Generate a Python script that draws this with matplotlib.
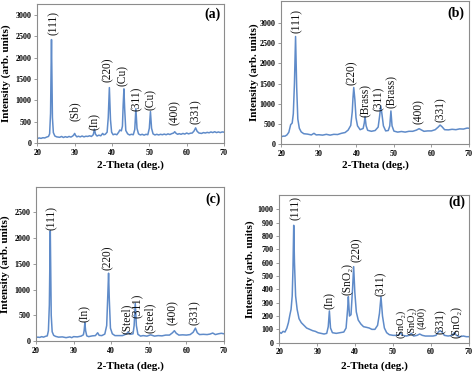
import matplotlib
matplotlib.use("Agg")
import matplotlib.pyplot as plt
from matplotlib.ticker import MultipleLocator

# ---------------- data ----------------
a_theta = [20, 20.5, 21, 21.5, 22, 22.5, 23, 23.3, 23.55, 23.7, 23.8, 23.9, 24.05, 24.3, 24.7, 25.2, 26, 26.5, 27,
           27.5, 28, 28.5, 29, 29.5, 29.8, 30.0, 30.2, 30.6, 31, 31.5, 32, 32.5, 33, 33.5, 34, 34.5, 35, 35.3, 35.6,
           36, 36.5, 37, 37.5, 37.8, 38.2, 38.7, 39.0, 39.3, 39.6, 39.9, 40.3, 40.8, 41.3, 41.8, 42.1, 42.5, 42.8,
           43.0, 43.2, 43.4, 43.7, 44.2, 44.7, 45.2, 45.7, 46.1, 46.4, 46.7, 47.1, 47.6, 48.1, 48.6, 49.1, 49.6,
           50.0, 50.3, 50.6, 51.0, 51.5, 52, 52.5, 53, 53.5, 54, 54.5, 55, 55.5, 56, 56.5, 56.8, 57.2, 57.6, 58,
           58.5, 59, 59.5, 60, 60.5, 61, 61.5, 62, 62.4, 62.8, 63.3, 64, 64.5, 65, 65.5, 66, 66.5, 67, 67.5, 68,
           68.5, 69, 69.5, 70]
a_int = [110, 125, 115, 130, 125, 145, 160, 220, 700, 1800, 2420, 1700, 600, 250, 170, 150, 140, 160, 135,
         155, 140, 160, 145, 170, 200, 230, 190, 150, 165, 150, 170, 150, 165, 160, 175, 160, 200, 330, 210,
         170, 190, 175, 230, 200, 210, 260, 600, 1300, 550, 260, 200, 215, 200, 260, 310, 290, 400,
         900, 1270, 800, 300, 220, 195, 210, 200, 320, 810, 350, 220, 195, 210, 190, 210, 200,
         350, 740, 350, 220, 195, 210, 195, 210, 200, 215, 200, 220, 205, 225, 240, 270, 230, 210, 225,
         210, 230, 215, 240, 220, 235, 240, 290, 360, 280, 240, 230, 250, 240, 255, 245, 265, 250, 270, 250,
         265, 250, 265, 260]

b_theta = [20, 20.5, 21, 21.5, 22, 22.5, 22.9, 23.2, 23.5, 23.8, 24.1, 24.4, 24.8, 25.3, 26, 27, 28, 28.7, 29.3,
           30, 31, 32, 33, 34, 35, 36, 37, 37.8, 38.5, 38.9, 39.1, 39.3, 39.6, 39.9, 40.3, 41, 41.8, 42.1, 42.3,
           42.6, 43, 44, 45, 45.8, 46.2, 46.5, 46.8, 47.2, 47.8, 48.5, 48.9, 49.2, 49.5, 50, 51, 52, 53, 54, 55,
           56, 56.7, 57.3, 58, 59, 60, 61, 61.8, 62.3, 62.8, 63.5, 64.5, 65.5, 66.5, 67.5, 68.5, 69.5, 70]
b_int = [180, 195, 195, 225, 290, 480, 520, 750, 1500, 2667, 1400, 620, 390, 300, 255, 245, 225, 265, 225,
         230, 220, 240, 220, 240, 235, 265, 285, 345, 460, 800, 1150, 1400, 1100, 650, 450, 355, 385, 520, 680,
         450, 340, 315, 335, 420, 700, 945, 750, 450, 325, 335, 450, 820, 450, 320, 295, 310, 295, 315, 315,
         345, 380, 350, 315, 325, 325, 355, 420, 470, 430, 355, 350, 365, 355, 375, 370, 395, 390]

c_theta = [20, 20.5, 21, 21.5, 22, 22.5, 23, 23.3, 23.55, 23.7, 23.8, 23.9, 24.05, 24.3, 24.7, 25.2, 26, 27, 28,
           29, 29.5, 30, 31, 32, 32.6, 32.8, 33.0, 33.2, 33.5, 34, 35, 35.8, 36.4, 36.8, 37.5, 38.3, 38.8, 39.1,
           39.3, 39.5, 39.8, 40.3, 41, 42, 43, 44, 44.5, 45, 45.8, 46.1, 46.4, 46.7, 47.1, 47.8, 48.5, 49.5,
           50.5, 51.5, 52.5, 53.5, 54.5, 55.5, 56.3, 56.8, 57.3, 58, 59, 60, 61, 61.8, 62.4, 62.9, 63.5, 64.5,
           65.5, 66.3, 67, 67.7, 68.5, 69.3, 70]
c_int = [70, 75, 70, 85, 75, 90, 100, 200, 700, 1600, 2143, 1500, 500, 180, 110, 90, 75, 80, 65,
         80, 65, 85, 80, 95, 120, 200, 357, 200, 100, 85, 100, 105, 160, 110, 105, 135, 300, 900,
         1319, 800, 250, 140, 105, 105, 105, 135, 175, 130, 140, 300, 734, 300, 130, 95, 105, 95,
         120, 95, 105, 100, 115, 115, 160, 200, 150, 115, 120, 115, 125, 170, 250, 160, 125, 130,
         125, 135, 155, 125, 140, 150, 140]

d_theta = [20, 20.5, 21, 21.5, 22, 22.4, 22.8, 23.1, 23.4, 23.6, 23.8, 24.0, 24.3, 24.7, 25.2, 25.8, 26.5, 27.2,
           28, 28.8, 29.5, 30.2, 31, 31.8, 32.5, 32.9, 33.2, 33.5, 34, 35, 36, 37, 37.6, 38.0, 38.2, 38.5, 38.9,
           39.3, 39.6, 39.9, 40.3, 40.8, 41.5, 42.2, 43, 43.7, 44.4, 45.2, 45.9, 46.4, 46.8, 47.2, 47.7, 48.3,
           49, 50, 51, 51.6, 52.0, 52.5, 53.5, 54.2, 54.8, 55.4, 56.3, 57, 57.7, 58.5, 59.5, 60.5, 61.3, 61.9,
           62.4, 62.9, 63.5, 64.5, 65.5, 66.1, 66.7, 67.5, 68.5, 69.3, 70]
d_int = [80, 70, 85, 80, 110, 150, 210, 250, 350, 550, 880, 600, 350, 250, 180, 150, 130, 110,
         100, 90, 85, 75, 70, 65, 70, 120, 238, 110, 75, 70, 75, 80, 110, 250, 345, 200, 210,
         400, 570, 380, 230, 170, 140, 120, 115, 110, 100, 100, 130, 220, 345, 200, 110, 75,
         60, 55, 55, 60, 75, 55, 50, 55, 70, 50, 55, 65, 55, 50, 50, 50, 55, 80,
         90, 80, 55, 50, 55, 75, 55, 45, 50, 45, 45]

# peak labels: text, 2-theta and intensity at the label centre
a_labels = ["(111)", "(Sb)", "(In)", "(220)", "(Cu)", "(311)", "(Cu)", "(400)", "(331)"]
a_lx = [24.3, 30.1, 35.5, 39.0, 43.0, 46.6, 50.5, 56.7, 62.5]
a_ly = [2806, 750, 500, 1710, 1580, 1045, 1015, 720, 750]

b_labels = ["(111)", "(220)", "(Brass)", "(311)", "(Brass)", "(400)", "(331)"]
b_lx = [24.2, 38.8, 42.4, 45.9, 49.5, 56.6, 62.4]
b_ly = [3062, 1757, 1069, 1127, 1300, 803, 845]

c_labels = ["(111)", "(In)", "(220)", "(Steel)", "(311)", "(Steel)", "(400)", "(331)"]
c_lx = [24.2, 33.0, 39.2, 44.1, 47.0, 50.3, 56.5, 62.3]
c_ly = [2387, 526, 1623, 438, 682, 448, 552, 552]

d_labels = ["(111)", "(In)", "(SnO\u2082)", "(220)", "(311)", "(SnO\u2082)", "(SnO\u2082)", "(400)", "(331)", "(SnO\u2082)"]
d_lx = [24.4, 33.3, 38.1, 40.3, 46.8, 51.9, 54.8, 57.6, 62.6, 66.7]
d_ly = [1006, 315, 481, 695, 444, 140, 160, 185, 160, 158]

panel_tags = ["(a)", "(b)", "(c)", "(d)"]
x_label = "2-Theta (deg.)"
y_label = "Intensity (arb. units)"

# ---------------- figure ----------------
W, H = 474, 373
fig = plt.figure(figsize=(W / 100, H / 100), dpi=100)
serif = ["Liberation Serif", "DejaVu Serif"]


def px_axes(l, t, r, b):
    return fig.add_axes([l / W, 1 - b / H, (r - l) / W, (b - t) / H])


panels = [
    dict(box=(37.3, 4, 224, 143.3), x=a_theta, y=a_int, labs=a_labels, lx=a_lx, ly=a_ly,
         ymax=3250, ystep=500, ytop=3000, tag=(66.8, 3000), ylc=-0.168, xlc=-0.156, small=()),
    dict(box=(281.3, 0.5, 469, 144), x=b_theta, y=b_int, labs=b_labels, lx=b_lx, ly=b_ly,
         ymax=3560, ystep=500, ytop=3000, tag=(66.4, 3248), ylc=-0.147, xlc=-0.146, small=()),
    dict(box=(36, 187.3, 224, 341), x=c_theta, y=c_int, labs=c_labels, lx=c_lx, ly=c_ly,
         ymax=2990, ystep=500, ytop=2500, tag=(67.2, 2761), ylc=-0.165, xlc=-0.163, small=()),
    dict(box=(279.3, 195, 469, 342.7), x=d_theta, y=d_int, labs=d_labels, lx=d_lx, ly=d_ly,
         ymax=1107, ystep=100, ytop=1000, tag=(66.8, 1050), ylc=-0.156, xlc=-0.158,
         small=(5, 6, 7)),
]

line_color = "#5f8bc9"
spine_color = "#8c8c8c"

for i, p in enumerate(panels):
    ax = px_axes(*p["box"])
    ax.plot(p["x"], p["y"], color=line_color, lw=1.1)
    ax.set_xlim(20, 70)
    ax.set_ylim(0, p["ymax"])
    ax.xaxis.set_major_locator(MultipleLocator(10))
    ax.set_yticks(list(range(0, p["ytop"] + 1, p["ystep"])))
    for s in ax.spines.values():
        s.set_color(spine_color)
        s.set_linewidth(0.8)
    ax.tick_params(axis="both", length=2, width=0.6, color=spine_color, pad=2,
                   labelsize=5.8)
    for lab in ax.get_xticklabels() + ax.get_yticklabels():
        lab.set_fontfamily(serif)
        lab.set_fontweight("bold")
    ax.set_xlabel(x_label, family=serif, fontweight="bold", fontsize=8)
    ax.set_ylabel(y_label, family=serif, fontweight="bold", fontsize=8)
    ax.xaxis.set_label_coords(0.5, p["xlc"])
    ax.xaxis.label.set_va("center")
    ax.yaxis.set_label_coords(p["ylc"], 0.5)
    ax.yaxis.label.set_va("center")
    for k, (t, xx, yy) in enumerate(zip(p["labs"], p["lx"], p["ly"])):
        fs = 7.4 if k in p["small"] else 8.3
        ax.text(xx, yy, t, rotation=90, ha="center", va="center", family=serif,
                fontsize=fs, color="#111111")
    ax.text(p["tag"][0], p["tag"][1], panel_tags[i], ha="center", va="center",
            family=serif, fontweight="bold", fontsize=10)

fig.savefig("out.png", dpi=100)
